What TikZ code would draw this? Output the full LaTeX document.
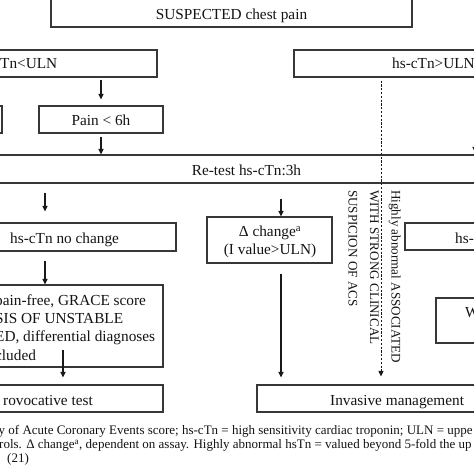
\documentclass[tikz,border=0pt]{standalone}
\usepackage{fontspec}
\setmainfont{Liberation Serif}
\usetikzlibrary{arrows.meta,fit}
\definecolor{ln}{RGB}{55,55,55}
\definecolor{tx}{RGB}{20,20,20}
\begin{document}
\begin{tikzpicture}[x=1pt,y=-1pt,
  box/.style={draw=ln, line width=1.1pt, inner sep=0pt},
  txt/.style={text=tx, inner sep=0pt, font=\fontsize{15.3}{18.3}\selectfont},
  arr/.style={draw=black!90, line width=1.1pt, -{Triangle[length=5.5pt,width=5pt]}},
  dsh/.style={arr, dash pattern=on 2.2pt off 1.6pt, line width=0.9pt},
  note/.style={text=tx, inner sep=0pt, font=\fontsize{13}{13.5}\selectfont, anchor=base west}]
\useasboundingbox (0,0) rectangle (474,474);
\fill[white] (0,0) rectangle (474,474);
\clip (0,0) rectangle (474,474);

% column coordinates
\coordinate (xA) at (45,0);
\coordinate (xB) at (63,0);
\coordinate (xC) at (281,0);
\coordinate (xD) at (381,0);
\coordinate (xR) at (475,0);

% boxes
\node[box, fit={(51,-20) (412,27)}] (susp) {};
\node[box, fit={(-20,50) (157,77)}] (ltbox) {};
\node[box, fit={(294,50) (490,77)}] (rtbox) {};
\node[box, fit={(-30,106) (2,133)}] (lsmall) {};
\node[box, fit={(39,106) (163,133)}] (pain) {};
\node[box, fit={(-20,155) (490,183)}] (retest) {};
\node[box, fit={(-20,223) (176,251)}] (nochg) {};
\node[box, fit={(207,217) (332,263)}] (delta) {};
\node[box, fit={(405,223) (490,250)}] (hsr) {};
\node[box, fit={(-20,285) (163,367)}] (grace) {};
\node[box, fit={(436,298) (490,343)}] (wbox) {};
\node[box, fit={(-20,385) (163,412)}] (prov) {};
\node[box, fit={(257,385) (490,412)}] (inv) {};

% texts
\node[txt, anchor=base] (tsusp) at (231.5,19.5) {SUSPECTED chest pain};
\node[txt, anchor=base west] (tlt) at (0,68.5) {Tn<ULN};
\node[txt, anchor=base west] (trt) at (392,68.5) {hs-cTn>ULN};
\node[txt, anchor=base] (tpain) at (101,125) {Pain < 6h};
\node[txt, anchor=base] (tre) at (246.5,175) {Re-test hs-cTn:3h};
\node[txt, anchor=base west] (tnc) at (10,243) {hs-cTn no change};
\node[txt, anchor=base west] (thsr) at (455,243) {hs-};
\node[txt, anchor=base, align=center] (tdelta) at (270,254.8) {Δ change\textsuperscript{a}\\(I value>ULN)};
\node[txt, anchor=base west, align=left] (tgrace) at (-5,360) {pain-free, GRACE score\\SIS OF UNSTABLE\\ED, differential diagnoses\\cluded};
\node[txt, anchor=base west] (tw) at (465,317) {W};
\node[txt, anchor=base west] (tprov) at (3,405) {rovocative test};
\node[txt, anchor=base west] (tinv) at (330,405) {Invasive management};

% arrows
\draw[arr, shorten <=2pt, shorten >=6pt] (pain.north |- ltbox.south) -- (pain.north);
\draw[arr, shorten <=3pt] (pain.south) -- (pain.south |- retest.north);
\draw[arr, shorten <=59pt, shorten >=2pt] (xR |- rtbox.south) -- (xR |- retest.north);
\draw[arr, shorten <=9pt, shorten >=11pt] (xA |- retest.south) -- (xA |- nochg.north);
\draw[arr, shorten <=15pt] (xC |- retest.south) -- (xC |- delta.north);
\draw[arr, shorten <=9pt] (xA |- nochg.south) -- (xA |- grace.north);
\draw[arr, shorten <=-18pt, shorten >=7pt] (xB |- grace.south) -- (xB |- prov.north);
\draw[arr, shorten <=10pt, shorten >=7pt] (xC |- delta.south) -- (xC |- inv.north);
\draw[dsh, shorten <=3pt, shorten >=8pt] (xD |- rtbox.south) -- (xD |- inv.north);

% vertical label
\node[rotate=-90, anchor=north west, align=left, inner sep=0pt, text=tx,
      font=\fontsize{13.1}{21.5}\selectfont] (vt) at (400.8,190)
      {Highly abnormal ASSOCIATED\\WITH STRONG CLINICAL\\SUSPICION OF ACS};

% footnote
\node[note] (n1) at (-1.5,434.5) {y of Acute Coronary Events score; hs-cTn = high sensitivity cardiac troponin; ULN = uppe};
\node[note] (n2) at (-1,448.5) {rols. Δ change\textsuperscript{a}, dependent on assay. Highly abnormal hsTn = valued beyond 5-fold the up};
\node[note] (n3) at (7,462) {(21)};
\end{tikzpicture}
\end{document}
